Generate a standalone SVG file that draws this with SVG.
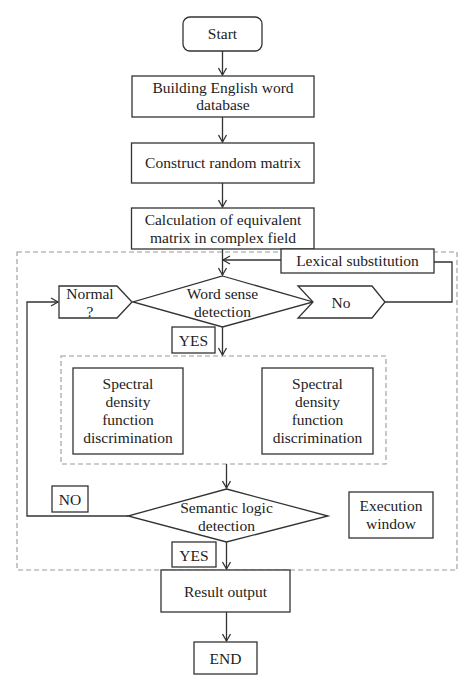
<svg xmlns="http://www.w3.org/2000/svg" width="474" height="692" viewBox="0 0 474 692">
<defs>
<style>
.n{fill:#fff;stroke:#333;stroke-width:1.3}
.d{fill:none;stroke:#999;stroke-width:1.1;stroke-dasharray:5,3}
.c{fill:none;stroke:#333;stroke-width:1.3}
text{font-family:"Liberation Serif","Times New Roman",serif;font-size:15.5px;fill:#222;text-anchor:middle;dominant-baseline:central}
</style>
<marker id="a" markerWidth="10" markerHeight="10" refX="8" refY="5" orient="auto" markerUnits="userSpaceOnUse">
<path d="M1,1 L8,5 L1,9" fill="none" stroke="#333" stroke-width="1.3"/>
</marker>
</defs>
<rect width="474" height="692" fill="#fff"/>
<g id="execution-area">
<rect class="d" x="17" y="252" width="440" height="318"/>
</g>
<g id="spectral-area">
<rect class="d" x="61" y="356" width="325" height="108"/>
</g>
<g id="connectors">
<path class="c" d="M222.5,51 V75" marker-end="url(#a)"/>
<path class="c" d="M222.5,117 V142" marker-end="url(#a)"/>
<path class="c" d="M222.5,183 V207" marker-end="url(#a)"/>
<path class="c" d="M222.5,249 V275" marker-end="url(#a)"/>
<path class="c" d="M281,260 H223" marker-end="url(#a)"/>
<path class="c" d="M434,262 H452 V302 H385"/>
<path class="c" d="M222.5,327 V355" marker-end="url(#a)"/>
<path class="c" d="M226.5,464 V488" marker-end="url(#a)"/>
<path class="c" d="M128,516 H27 V302 H58" marker-end="url(#a)"/>
<path class="c" d="M226.5,542 V569" marker-end="url(#a)"/>
<path class="c" d="M226.5,612 V641" marker-end="url(#a)"/>
</g>
<g id="start">
<rect class="n" x="183" y="17" width="79" height="34" rx="7"/>
<text x="222.5" y="33">Start</text>
</g>
<g id="build-db">
<rect class="n" x="132" y="76" width="182" height="41"/>
<text x="223" y="87">Building English word</text>
<text x="223" y="104">database</text>
</g>
<g id="random-matrix">
<rect class="n" x="131.5" y="143" width="182.5" height="40"/>
<text x="223" y="162">Construct random matrix</text>
</g>
<g id="equiv-matrix">
<rect class="n" x="131.5" y="208" width="182.5" height="41"/>
<text x="223" y="219">Calculation of equivalent</text>
<text x="223" y="237">matrix in complex field</text>
</g>
<g id="lexical">
<rect class="n" x="281" y="249" width="153" height="24"/>
<text x="357.5" y="260">Lexical substitution</text>
</g>
<g id="word-sense">
<polygon class="n" points="222.5,276 313,302 222.5,327 133,302"/>
<text x="222.5" y="293">Word sense</text>
<text x="222.5" y="311">detection</text>
</g>
<g id="normal">
<polygon class="n" points="59,286 117,286 132,302 117,318 59,318"/>
<text x="90" y="293">Normal</text>
<text x="90" y="311">?</text>
</g>
<g id="no">
<polygon class="n" points="298,286 372,286 385,302 372,318 298,318 313,302"/>
<text x="341" y="302">No</text>
</g>
<g id="yes1">
<rect class="n" x="172" y="327" width="43" height="26"/>
<text x="193.5" y="340">YES</text>
</g>
<g id="spectral-left">
<rect class="n" x="73" y="368" width="110" height="86"/>
<text x="128" y="383">Spectral</text>
<text x="128" y="401">density</text>
<text x="128" y="419">function</text>
<text x="128" y="437">discrimination</text>
</g>
<g id="spectral-right">
<rect class="n" x="262" y="368" width="111" height="86"/>
<text x="317.5" y="383">Spectral</text>
<text x="317.5" y="401">density</text>
<text x="317.5" y="419">function</text>
<text x="317.5" y="437">discrimination</text>
</g>
<g id="semantic">
<polygon class="n" points="226.5,489 328,516 226.5,542 128,516"/>
<text x="226.5" y="507">Semantic logic</text>
<text x="226.5" y="525">detection</text>
</g>
<g id="no2">
<rect class="n" x="52" y="486" width="36" height="26"/>
<text x="70" y="499">NO</text>
</g>
<g id="exec-window">
<rect class="n" x="349" y="492" width="84" height="46"/>
<text x="391" y="505">Execution</text>
<text x="391" y="523">window</text>
</g>
<g id="yes2">
<rect class="n" x="172" y="542" width="44" height="25"/>
<text x="194" y="555">YES</text>
</g>
<g id="result">
<rect class="n" x="161" y="570" width="129" height="42"/>
<text x="225.5" y="591">Result output</text>
</g>
<g id="end">
<rect class="n" x="194" y="642" width="63" height="32"/>
<text x="225.5" y="658">END</text>
</g>
</svg>
